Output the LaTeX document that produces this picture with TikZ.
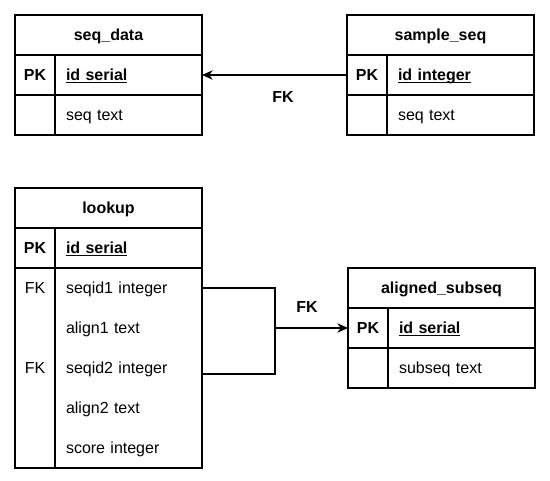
\documentclass[tikz,border=0pt]{standalone}
\usepackage{fontspec}
\setmainfont{Liberation Sans}
\usepackage{tikz}
\usetikzlibrary{arrows.meta, positioning}
\newcommand{\erfont}{\fontsize{12}{14}\selectfont}
\newcommand{\pkfield}[1]{\textbf{\underline{\raisebox{0pt}[\height][0pt]{#1}}}}

\begin{document}
\begin{tikzpicture}[x=0.75pt, y=-0.75pt, font=\erfont,
		tblhead/.style={draw, line width=1pt, outer sep=0pt, inner sep=0pt, anchor=north west,
			minimum width=140.25pt, minimum height=30pt, text height=8.6pt, text depth=0pt,
			font=\erfont\bfseries},
		keycell/.style={draw, line width=1pt, outer sep=0pt, inner sep=0pt,
			minimum width=30pt, minimum height=30pt, text height=8.6pt, text depth=0pt},
		fieldcell/.style={draw, line width=1pt, outer sep=0pt, inner xsep=8.25pt, inner ysep=0pt,
			text width=93.75pt, minimum height=30pt, text height=8.6pt, text depth=0pt, align=left},
		fieldrow/.style={fieldcell, draw=none},
		keyrow/.style={keycell, draw=none},
		fklink/.style={line width=1pt, -{Stealth[length=8pt, width=7pt, inset=2.5pt]}},
		fklabel/.style={font=\erfont\bfseries}]
	\useasboundingbox (0,0) rectangle (550,481);
	% seq_data
	\node[tblhead] (sd-head) at (15,15) {seq\_data};
	\node[keycell, below right=0pt and 0pt of sd-head.south west, font=\erfont\bfseries] (sd-pk) {PK};
	\node[fieldcell, right=0pt of sd-pk] (sd-id) {\pkfield{id serial}};
	\node[keycell, below=0pt of sd-pk] (sd-k2) {};
	\node[fieldcell, right=0pt of sd-k2] (sd-seq) {seq text};
	% sample_seq
	\node[tblhead] (ss-head) at (347,15) {sample\_seq};
	\node[keycell, below right=0pt and 0pt of ss-head.south west, font=\erfont\bfseries] (ss-pk) {PK};
	\node[fieldcell, right=0pt of ss-pk] (ss-id) {\pkfield{id integer}};
	\node[keycell, below=0pt of ss-pk] (ss-k2) {};
	\node[fieldcell, right=0pt of ss-k2] (ss-seq) {seq text};
	% lookup
	\node[tblhead] (lk-head) at (15,188) {lookup};
	\node[keycell, below right=0pt and 0pt of lk-head.south west, font=\erfont\bfseries] (lk-pk) {PK};
	\node[fieldcell, right=0pt of lk-pk] (lk-id) {\pkfield{id serial}};
	\node[keycell, below=0pt of lk-pk, minimum height=150pt] (lk-keys) {};
	\node[fieldcell, right=0pt of lk-keys, minimum height=150pt] (lk-fields) {};
	\node[fieldrow, below right=0pt and 0pt of lk-fields.north west] (lk-seqid1) {seqid1 integer};
	\node[fieldrow, below=0pt of lk-seqid1] (lk-align1) {align1 text};
	\node[fieldrow, below=0pt of lk-align1] (lk-seqid2) {seqid2 integer};
	\node[fieldrow, below=0pt of lk-seqid2] (lk-align2) {align2 text};
	\node[fieldrow, below=0pt of lk-align2] (lk-score) {score integer};
	\node[keyrow] (lk-fk1) at (lk-keys.center |- lk-seqid1) {FK};
	\node[keyrow] (lk-fk2) at (lk-keys.center |- lk-seqid2) {FK};
	% aligned_subseq
	\node[tblhead] (as-head) at (348,268) {aligned\_subseq};
	\node[keycell, below right=0pt and 0pt of as-head.south west, font=\erfont\bfseries] (as-pk) {PK};
	\node[fieldcell, right=0pt of as-pk] (as-id) {\pkfield{id serial}};
	\node[keycell, below=0pt of as-pk] (as-k2) {};
	\node[fieldcell, right=0pt of as-k2] (as-sub) {subseq text};
	% links
	\draw[fklink] (ss-pk.west) -- (sd-id.east);
	\node[fklabel] (fk-top) at (283,97) {FK};
	\coordinate (lk-join) at (275,328);
	\draw[line width=1pt] (lk-seqid1.east) -| (lk-join) |- ([yshift=-4.5pt]lk-seqid2.east);
	\draw[fklink] (lk-join) -- (as-pk.west);
	\node[fklabel] (fk-low) at (307,307) {FK};
\end{tikzpicture}
\end{document}
